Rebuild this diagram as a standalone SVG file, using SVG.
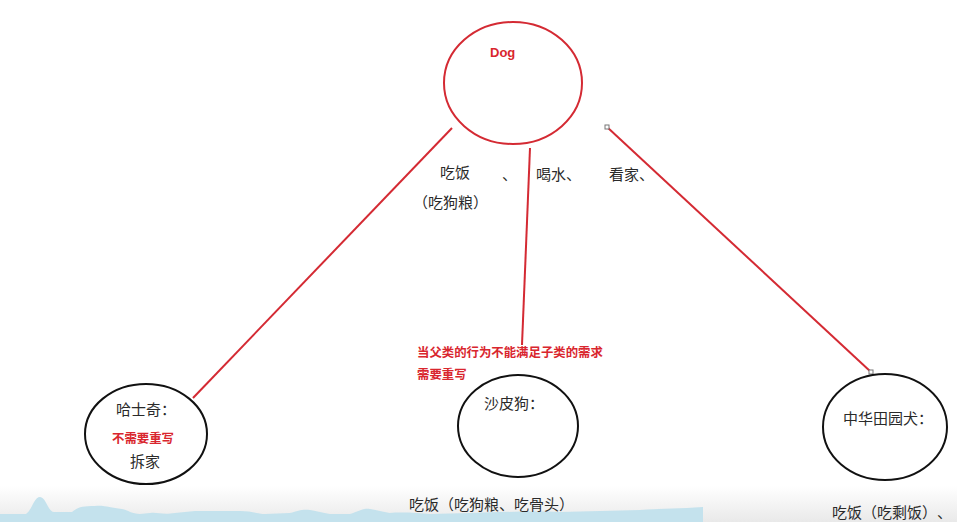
<svg xmlns="http://www.w3.org/2000/svg" width="957" height="522" viewBox="0 0 957 522">
<defs>
<linearGradient id="bg" x1="0" y1="0" x2="0" y2="1">
<stop offset="0" stop-color="#ffffff"/>
<stop offset="1" stop-color="#e9e9e9"/>
</linearGradient>
<style>
text{text-spacing-trim:space-all;font-kerning:none}
.t{font-family:"Noto Sans CJK SC","Liberation Sans",sans-serif;font-size:15px;fill:#2a2a2a}
.r{font-family:"Noto Sans CJK SC","Liberation Sans",sans-serif;font-size:12.4px;font-weight:bold;fill:#d9262e}
.d{font-family:"Liberation Sans","Noto Sans CJK SC",sans-serif;font-size:13px;font-weight:bold;fill:#d9262e}
.ce{fill:none;stroke:#111;stroke-width:2}
.re{fill:none;stroke:#d42a33;stroke-width:2}
.ln{stroke:#d42a33;stroke-width:2;fill:none}
.h{fill:#fff;stroke:#777;stroke-width:1}
</style>
</defs>
<rect width="957" height="522" fill="#fff"/>
<rect x="0" y="486" width="957" height="36" fill="url(#bg)"/>
<path d="M0,514 L26,514 C32,510 34,497 40,497 C46,497 48,512 54,512 L72,512 C78,507 82,506 95,506 C105,505 110,508 122,509 C128,510 132,514 140,514 L150,513 C158,512 162,515 175,513 L195,511 L240,511 C252,511 258,514 265,514 L290,513 C298,511 302,509 310,510 C318,511 322,513 330,514 L350,514 C358,512 362,508 370,509 C378,510 382,512 390,513 C400,512 420,513 430,514 L470,513 C500,512 530,511 560,512 L640,510 C665,508 680,509 703,507 L703,522 L0,522 Z" fill="#c4e2ed"/>
<g id="connectors">
<line class="ln" x1="452" y1="128" x2="193" y2="398"/>
<line class="ln" x1="530" y1="148" x2="522" y2="345"/>
<line class="ln" x1="607" y1="127" x2="871" y2="372"/>
<rect class="h" x="605" y="125" width="4" height="4"/>
<rect class="h" x="869" y="370" width="4" height="4"/>
</g>
<g id="dog">
<ellipse class="re" cx="513" cy="83" rx="69" ry="61"/>
<text class="d" x="490" y="57">Dog</text>
</g>
<g id="dog-methods">
<text class="t" x="440" y="178">吃饭</text>
<text class="t" x="502" y="180">、</text>
<text class="t" x="536" y="180">喝水、</text>
<text class="t" x="609" y="180">看家、</text>
<text class="t" x="413" y="208">（吃狗粮）</text>
</g>
<g id="note">
<text class="r" x="417" y="357">当父类的行为不能满足子类的需求</text>
<text class="r" x="417" y="379">需要重写</text>
</g>
<g id="husky">
<ellipse class="ce" cx="146" cy="434" rx="61" ry="50"/>
<text class="t" x="116" y="415">哈士奇：</text>
<text class="r" x="112" y="443">不需要重写</text>
<text class="t" x="130" y="467">拆家</text>
</g>
<g id="shapi">
<ellipse class="ce" cx="518" cy="426" rx="60" ry="51"/>
<text class="t" x="484" y="409">沙皮狗：</text>
<text class="t" x="409" y="510">吃饭（吃狗粮、吃骨头）</text>
</g>
<g id="tianyuan">
<ellipse class="ce" cx="885" cy="427" rx="62" ry="53"/>
<text class="t" x="843" y="424">中华田园犬：</text>
<text class="t" x="832" y="518">吃饭（吃剩饭）、</text>
</g>
</svg>
